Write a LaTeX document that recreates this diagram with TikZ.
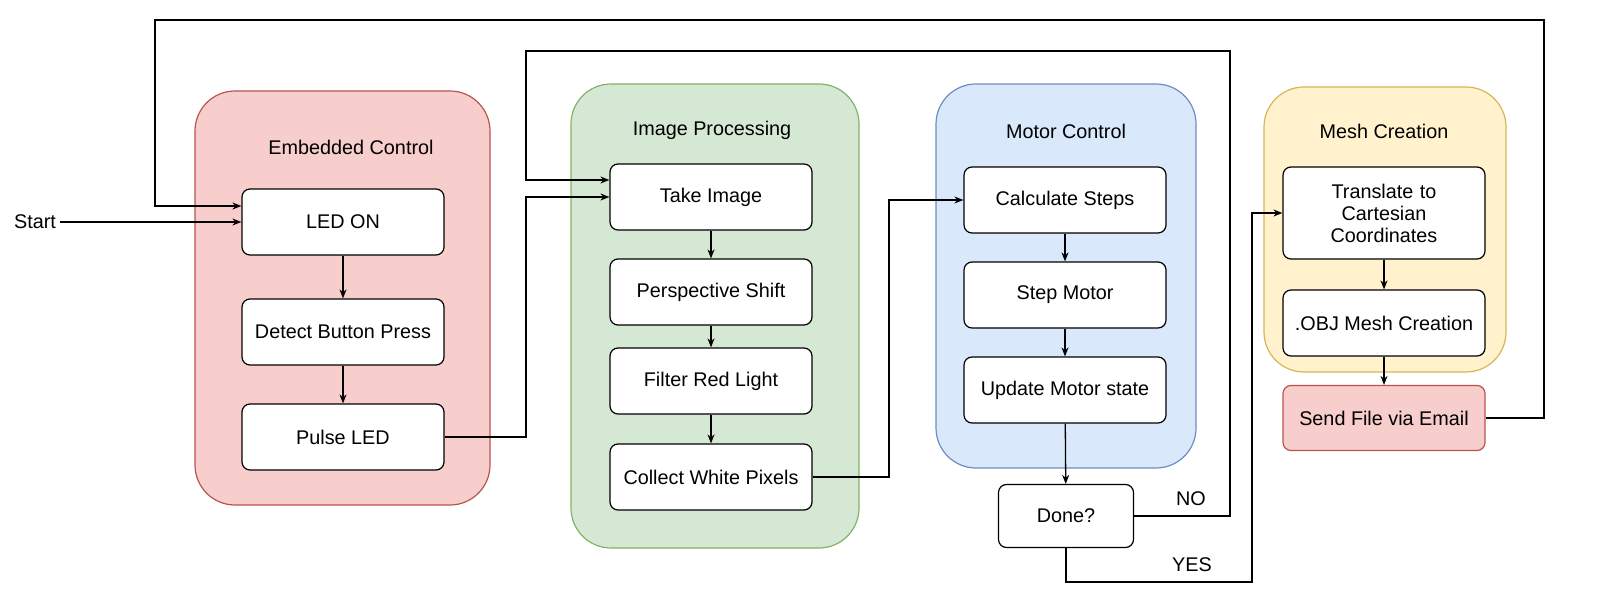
\documentclass[tikz,border=0pt]{standalone}
\usepackage{fontspec}
\setmainfont{Liberation Sans}
\usetikzlibrary{arrows.meta,positioning}
\definecolor{redfill}{HTML}{F8CECC}\definecolor{reddraw}{HTML}{B85450}
\definecolor{greenfill}{HTML}{D5E8D4}\definecolor{greendraw}{HTML}{82B366}
\definecolor{bluefill}{HTML}{DAE8FC}\definecolor{bluedraw}{HTML}{6C8EBF}
\definecolor{yellowfill}{HTML}{FFF2CC}\definecolor{yellowdraw}{HTML}{D6B656}
\begin{document}
\begin{tikzpicture}[x=1pt,y=-1pt,>={Stealth[length=9pt,width=7pt]},line width=1.3pt,
  font=\fontsize{19.8}{23}\selectfont]
\tikzset{group/.style={draw=#1draw,fill=#1fill,rounded corners=40pt,line width=1.2pt}}
\tikzset{stage/.style={draw,fill=white,rounded corners=8pt,minimum width=202pt,minimum height=66pt,align=center,line width=1.2pt}}
% groups
\draw[group=red] (195,91) rectangle (490,505);
\draw[group=green] (571,84) rectangle (859,548);
\draw[group=blue] (936,84) rectangle (1196,468);
\draw[group=yellow] (1264,87) rectangle (1506,372);
\node (embedded) at (351,147) {Embedded Control};
\node (imaging) at (712,130) {Image Processing};
\node (motor) at (1066,131) {Motor Control};
\node (mesh) at (1384,131) {Mesh Creation};
% stages
\node[stage] (ledon) at (343,222) {LED ON};
\node[stage] (detect) at (343,332) {Detect Button Press};
\node[stage] (pulse) at (343,437) {Pulse LED};
\node[stage] (take) at (711,197) {Take Image};
\node[stage] (shift) at (711,292) {Perspective Shift};
\node[stage] (filter) at (711,381) {Filter Red Light};
\node[stage] (collect) at (711,477) {Collect White Pixels};
\node[stage] (calc) at (1065,200) {Calculate Steps};
\node[stage] (stepm) at (1065,295) {Step Motor};
\node[stage] (update) at (1065,390) {Update Motor state};
\node[stage,minimum width=135pt,minimum height=63pt] (done) at (1066,516) {Done?};
\node[stage,minimum height=92pt,text width=190pt] (cart) at (1384,213) {Translate to\\[-1pt]Cartesian\\[-1pt]Coordinates};
\node[stage] (obj) at (1384,323) {.OBJ Mesh Creation};
\node[stage,fill=redfill,draw=reddraw,minimum height=65pt] (email) at (1384,418) {Send File via Email};
\node (start) at (35,222) {Start};
\node (no) at (1191,499) {NO};
\node (yes) at (1192,565) {YES};
% connectors
\draw[->] (start.east) -- (ledon.west);
\draw[->] (ledon) -- (detect);
\draw[->] (detect) -- (pulse);
\draw[->] (take) -- (shift);
\draw[->] (shift) -- (filter);
\draw[->] (filter) -- (collect);
\draw[->] (calc) -- (stepm);
\draw[->] (stepm) -- (update);
\draw[->] (update) -- (done);
\draw[->] (cart) -- (obj);
\draw[->] (obj) -- (email);
\draw[->] (pulse.east) -- (526,437) -- (526,197) -- (take.west);
\draw[->] (done.east) -- (1230,516) -- (1230,51) -- (526,51) -- (526,180) -- (take.west |- 0,180);
\draw[->] (collect.east) -- (889,477) -- (889,200) -- (calc.west);
\draw[->] (done.south) -- (1066,582) -- (1252,582) -- (1252,213) -- (cart.west);
\draw[->] (email.east) -- (1544,418) -- (1544,20) -- (155,20) -- (155,206) -- (ledon.west |- 0,206);
\pgfresetboundingbox
\useasboundingbox (0,0) rectangle (1600,609);
\end{tikzpicture}
\end{document}
